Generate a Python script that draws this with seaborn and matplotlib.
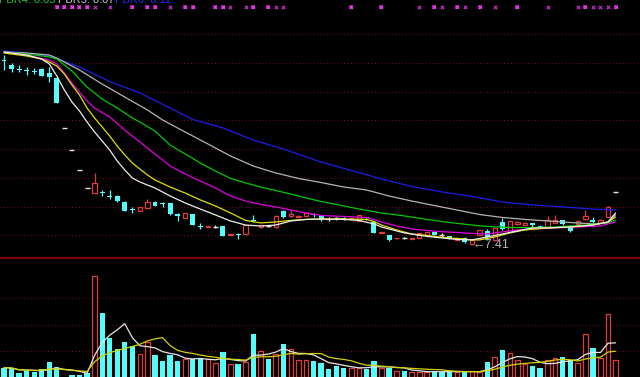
import numpy as np
import pandas as pd
import matplotlib
matplotlib.use("Agg")
import matplotlib.pyplot as plt
import seaborn as sns

# ------------------------------------------------------------------ data
opens = [20.59, 20.23, 19.91, 19.84, 19.81, 19.95, 19.69, 19.31, 15.78, 14.20,
         12.78, 11.50, 11.14, 11.19, 10.90, 10.90, 10.47, 9.94, 9.85, 10.03,
         10.47, 10.37, 10.38, 9.62, 9.33, 9.62, 8.76, 8.69, 8.71, 8.73,
         8.12, 8.19, 8.19, 9.14, 8.66, 8.76, 8.67, 9.85, 9.48, 9.40,
         9.48, 9.58, 9.48, 9.26, 9.31, 9.33, 9.23, 9.14, 9.33, 9.08,
         8.25, 8.12, 7.87, 7.91, 7.86, 7.89, 8.09, 8.30, 8.12, 8.05,
         7.77, 7.94, 7.48, 8.12, 8.37, 7.77, 9.07, 8.36, 8.91, 8.83,
         8.94, 8.76, 8.71, 8.98, 9.19, 8.76, 8.87, 9.24, 9.19, 9.00,
         9.42, 11.17]
highs = [20.95, 20.38, 20.23, 20.09, 20.02, 19.99, 20.09, 19.38, 15.78, 14.20,
         12.78, 11.50, 12.54, 11.33, 11.33, 10.97, 10.51, 10.12, 10.12, 10.67,
         10.51, 10.50, 10.42, 9.67, 9.71, 9.62, 9.00, 8.76, 8.83, 8.76,
         8.19, 8.24, 8.83, 9.55, 8.83, 8.83, 9.55, 9.90, 9.90, 9.51,
         9.76, 9.71, 9.48, 9.42, 9.42, 9.40, 9.30, 9.55, 9.42, 9.12,
         8.34, 8.14, 7.91, 8.00, 7.93, 8.24, 8.31, 8.31, 8.24, 8.05,
         8.00, 7.96, 7.82, 8.50, 8.55, 8.62, 9.30, 9.14, 9.12, 9.05,
         9.00, 8.83, 9.48, 9.55, 9.21, 8.83, 9.19, 9.90, 9.38, 9.24,
         10.19, 11.17]
lows = [19.88, 19.74, 19.74, 19.52, 19.59, 19.45, 19.02, 17.53, 15.78, 14.20,
        12.78, 11.50, 11.11, 10.90, 10.69, 10.47, 9.83, 9.69, 9.83, 9.95,
        10.19, 10.10, 9.55, 9.14, 9.31, 8.80, 8.53, 8.67, 8.62, 8.05,
        8.10, 7.82, 8.19, 9.05, 8.60, 8.69, 8.60, 9.31, 9.43, 9.37,
        9.44, 9.43, 9.12, 9.14, 9.19, 9.19, 9.19, 9.12, 9.19, 8.24,
        8.23, 7.69, 7.84, 7.82, 7.84, 7.87, 8.07, 8.10, 8.00, 7.82,
        7.77, 7.57, 7.41, 8.10, 7.77, 7.69, 8.51, 8.36, 8.83, 8.80,
        8.69, 8.62, 8.62, 8.94, 8.83, 8.34, 8.83, 9.19, 9.00, 8.98,
        9.40, 11.17]
closes = [20.52, 19.95, 19.88, 19.81, 19.77, 19.45, 19.36, 17.53, 15.78, 14.20,
          12.78, 11.50, 11.85, 11.11, 10.83, 10.51, 9.83, 9.90, 10.10, 10.50,
          10.22, 10.30, 9.62, 9.44, 9.69, 8.83, 8.69, 8.74, 8.71, 8.05,
          8.17, 8.14, 8.81, 9.10, 8.80, 8.76, 9.50, 9.38, 9.62, 9.48,
          9.71, 9.53, 9.16, 9.26, 9.31, 9.26, 9.26, 9.55, 9.30, 8.27,
          8.30, 7.77, 7.91, 7.91, 7.91, 8.23, 8.30, 8.12, 8.12, 7.84,
          7.94, 7.62, 7.77, 8.48, 7.98, 8.59, 8.55, 9.12, 9.07, 9.00,
          8.83, 8.69, 9.19, 9.19, 8.87, 8.37, 9.12, 9.48, 9.08, 9.21,
          10.15, 11.17]
volumes = [9.3, 8.7, 3.7, 6.0, 5.3, 7.7, 14.7, 10.3, 0.4, 1.7,
           1.7, 3.7, 101.0, 63.7, 39.0, 28.3, 34.7, 30.7, 23.3, 35.0,
           21.7, 16.3, 21.7, 16.3, 18.3, 17.7, 18.7, 17.7, 13.7, 25.0,
           12.7, 13.0, 15.3, 42.7, 26.0, 17.7, 23.0, 33.0, 27.7, 16.7,
           17.3, 15.7, 14.3, 8.0, 10.7, 9.3, 9.3, 8.7, 8.3, 15.7,
           8.7, 9.3, 6.0, 6.0, 4.7, 5.3, 4.7, 6.0, 5.3, 5.7,
           4.7, 5.3, 5.7, 5.3, 14.7, 19.7, 26.7, 24.3, 16.7, 12.7,
           11.3, 8.7, 17.0, 18.7, 20.0, 16.7, 14.3, 43.3, 28.7, 19.3,
           63.0, 16.7]
# volume colour per bar: u = up (red hollow), d = down (cyan)
vol_dir = ("dddddddddddd" "u" "ddddd" "uu" "dddd" "u" "dd" "uu" "d" "u" "d" "u" "d"
           "u" "d" "u" "d" "uuu" "ddddd" "uu" "dd" "u" "d" "u" "d" "uuu" "ddd" "u"
           "d" "uu" "d" "u" "d" "uuu" "dd" "uu" "dd" "uu" "d" "uuu")

# moving-average lines (bar index, price)
ma_white_idx = [0, 3, 5, 6, 7, 8, 9, 10, 11, 12, 13, 14, 15, 16, 17, 18, 19, 20, 22, 24, 26, 28,
                30, 32, 34, 36, 38, 40, 42, 45, 47, 49, 50, 53, 56, 58, 60, 62, 64, 66, 68, 70,
                72, 75, 78, 80, 81]
ma_white = [21.16, 20.95, 20.66, 20.31, 19.45, 18.45, 17.60, 16.96, 16.17, 15.46, 14.82, 14.18,
            13.39, 12.75, 12.18, 11.90, 11.68, 11.47, 10.90, 10.40, 9.97, 9.55, 9.12, 8.83, 8.76,
            8.83, 9.12, 9.23, 9.26, 9.23, 9.16, 8.91, 8.69, 8.27, 8.02, 7.91, 7.80, 7.77, 7.98,
            8.19, 8.41, 8.62, 8.62, 8.69, 8.83, 9.05, 9.69]
ma_yellow_idx = [0, 3, 5, 6, 7, 8, 9, 10, 11, 12, 13, 14, 15, 16, 17, 18, 19, 20, 22, 24, 26, 28,
                 30, 32, 34, 36, 38, 40, 42, 45, 48, 49, 50, 52, 54, 56, 58, 60, 62, 63, 65, 67,
                 69, 72, 75, 78, 80, 81]
ma_yellow = [21.09, 20.88, 20.66, 20.45, 20.16, 19.59, 18.81, 18.10, 17.17, 16.46, 15.82, 15.18,
             14.46, 13.82, 13.25, 12.82, 12.40, 12.04, 11.54, 11.11, 10.62, 10.19, 9.69, 9.16,
             8.98, 9.05, 9.16, 9.23, 9.26, 9.26, 9.23, 9.08, 8.83, 8.48, 8.19, 8.09, 7.96, 7.87,
             7.77, 7.77, 7.98, 8.27, 8.48, 8.62, 8.69, 8.83, 9.05, 9.40]
ma_magenta_idx = [0, 3, 6, 7, 8, 9, 10, 11, 12, 14, 16, 18, 20, 22, 24, 26, 28, 30, 32, 34, 36,
                  38, 40, 42, 45, 48, 50, 52, 54, 56, 58, 60, 62, 64, 66, 68, 72, 76, 79, 81]
ma_magenta = [21.16, 20.95, 20.59, 20.31, 19.66, 18.95, 18.31, 17.67, 17.17, 16.53, 15.60, 14.75,
              13.89, 13.04, 12.47, 11.97, 11.47, 10.90, 10.54, 10.30, 10.12, 9.90, 9.69, 9.51,
              9.44, 9.37, 9.05, 8.76, 8.55, 8.44, 8.36, 8.30, 8.23, 8.19, 8.34, 8.48, 8.62, 8.69,
              8.76, 9.05]
ma_green_idx = [0, 3, 6, 7, 9, 11, 13, 15, 17, 18, 20, 22, 24, 26, 28, 30, 32, 34, 36, 38, 40,
                42, 44, 47, 50, 53, 56, 59, 62, 64, 67, 70, 73, 77, 80, 81]
ma_green = [21.16, 21.02, 20.81, 20.66, 19.81, 18.67, 17.81, 17.17, 16.46, 16.17, 15.53, 14.53,
            13.89, 13.25, 12.68, 12.15, 11.83, 11.54, 11.29, 11.04, 10.76, 10.51, 10.30, 9.97,
            9.69, 9.48, 9.23, 9.01, 8.83, 8.73, 8.65, 8.65, 8.69, 8.83, 8.98, 9.19]
ma_gray_idx = [0, 3, 6, 7, 10, 13, 16, 19, 21, 24, 27, 30, 33, 36, 39, 42, 45, 48, 51, 54, 57,
               60, 63, 66, 69, 72, 75, 78, 80, 81]
ma_gray = [21.16, 21.09, 20.95, 20.73, 19.88, 18.88, 17.95, 17.03, 16.32, 15.46, 14.61, 13.75,
           13.04, 12.54, 12.15, 11.86, 11.54, 11.33, 10.90, 10.54, 10.22, 9.90, 9.58, 9.37,
           9.23, 9.12, 9.01, 8.91, 8.98, 9.55]
ma_blue_idx = [0, 3, 6, 10, 14, 18, 22, 25, 29, 33, 37, 42, 47, 50, 54, 58, 62, 66, 70, 74, 78, 81]
ma_blue = [21.23, 21.09, 20.88, 20.09, 19.06, 18.24, 17.17, 16.35, 15.75, 14.89, 14.25, 13.32,
           12.57, 12.11, 11.58, 11.19, 10.87, 10.47, 10.26, 10.12, 9.97, 9.90]

# signal markers along the top row (bar indices)
sig_big = [7, 8, 9, 10, 11, 17, 19, 20, 24, 25, 28, 29, 33, 35, 46, 50, 57, 60, 63, 68, 77, 81]
sig_small = [12, 14, 22, 30, 32, 36, 37, 55, 58, 61, 65, 72, 76, 78, 79, 80]

header_labels = ["PBR4: 0.05", "PBR5: 0.07", "PBR6: 0.11"]
low_label = "\u21907.41"
low_index = 62

price_grid = [8.09, 10.14, 12.19, 14.24, 16.29, 18.34, 20.39, 22.44]
vol_grid = [26.2, 52.5, 78.7]

# ------------------------------------------------------------------ style
sns.set_style("dark", rc={"axes.facecolor": "black", "figure.facecolor": "black"})
plt.rcParams["font.family"] = ["Liberation Sans", "DejaVu Sans"]

CYAN = "#54FCFC"
RED = "#E23B3B"
FLAT = "#E6E6E6"
GRID = "#6E1414"

fig = plt.figure(figsize=(6.4, 3.77), dpi=100, facecolor="black")
H = 377.0
ax = fig.add_axes([0, 119 / H, 1, 258 / H])
axv = fig.add_axes([0, 0, 1, 119 / H])

x = np.arange(len(closes))
o = np.array(opens); h = np.array(highs); l = np.array(lows); c = np.array(closes)
up = c > o
dn = c < o
fl = c == o
BW = 0.66
MINH = 0.07

# down candles (filled cyan)
ax.vlines(x[dn], l[dn], h[dn], color=CYAN, lw=0.9, zorder=2)
ax.bar(x[dn], np.maximum(o[dn] - c[dn], MINH), bottom=c[dn], width=BW,
       color=CYAN, linewidth=0, zorder=2.2)
# up candles (hollow red)
ax.vlines(x[up], l[up], h[up], color=RED, lw=0.9, zorder=2)
ax.bar(x[up], np.maximum(c[up] - o[up], MINH), bottom=o[up], width=BW - 0.08,
       facecolor="black", edgecolor=RED, linewidth=0.9, zorder=2.2)
# flat (one-price) bars
ax.vlines(x[fl], l[fl], h[fl], color=FLAT, lw=0.9, zorder=2)
ax.hlines(c[fl], x[fl] - 0.33, x[fl] + 0.33, color=FLAT, lw=1.0, zorder=2.2)

ma_lines = [
    (ma_blue_idx, ma_blue, "#1E1EE6"),
    (ma_gray_idx, ma_gray, "#B4B4B4"),
    (ma_green_idx, ma_green, "#00C800"),
    (ma_magenta_idx, ma_magenta, "#E000E0"),
    (ma_yellow_idx, ma_yellow, "#E0E000"),
    (ma_white_idx, ma_white, "#EDEDED"),
]
for idx, vals, col in ma_lines:
    sns.lineplot(x=idx, y=vals, ax=ax, color=col, linewidth=0.9,
                 estimator=None, sort=False, zorder=3)

# signal markers in the top row
tr = ax.get_xaxis_transform()
sig_row = 1 - 7 / 258
ax.scatter(sig_big, [sig_row] * len(sig_big), transform=tr, marker="s", s=11,
           color="#A810A8", linewidths=0, zorder=4)
ax.scatter(sig_big, [sig_row] * len(sig_big), transform=tr, marker="x", s=5,
           color="#FF55FF", linewidths=0.6, zorder=5)
ax.scatter(sig_small, [sig_row] * len(sig_small), transform=tr, marker="x", s=6,
           color="#D030D0", linewidths=0.8, zorder=4)

ax.text(low_index + 0.1, lows[low_index], low_label, color="#B8B8B8",
        fontsize=9, ha="left", va="center", zorder=5)

ax.set_xlim(-0.53, 84.24)
ax.set_ylim(6.48, 24.87)
ax.set_yticks(price_grid)
ax.set_xticks([])
ax.tick_params(length=0, labelleft=False, labelbottom=False)
ax.grid(axis="y", color=GRID, linestyle=(0, (1, 2.5)), linewidth=0.7)
ax.grid(axis="x", visible=False)
ax.set_xlabel("")
ax.set_ylabel("")
for s in ax.spines.values():
    s.set_visible(False)

# header texts (partly above the canvas, as in the reference)
header_colors = ["#22C822", "#C8C8C8", "#2828FF"]
header_x = [-1, 58, 115]
for txt, col, px in zip(header_labels, header_colors, header_x):
    fig.text(px / 640, 1 - 3 / H, txt, color=col, fontsize=8, va="baseline", ha="left")

# ------------------------------------------------------------------ volume
v = np.array(volumes)
vup = np.array([d == "u" for d in vol_dir])
axv.bar(x[~vup], v[~vup], width=0.7, color=CYAN, linewidth=0, zorder=2)
axv.bar(x[vup], v[vup], width=0.62, facecolor="black", edgecolor=RED,
        linewidth=0.9, zorder=2)
vs = pd.Series(volumes)
sns.lineplot(x=x, y=vs.rolling(5, min_periods=1).mean().values, ax=axv,
             color="#E6E6E6", linewidth=0.9, zorder=3)
sns.lineplot(x=x, y=vs.rolling(10, min_periods=1).mean().values, ax=axv,
             color="#D2D200", linewidth=0.9, zorder=3)
axv.set_xlim(-0.53, 84.24)
axv.set_ylim(0, 119)
axv.set_yticks(vol_grid)
axv.set_xticks([])
axv.tick_params(length=0, labelleft=False, labelbottom=False)
axv.grid(axis="y", color=GRID, linestyle=(0, (1, 2.5)), linewidth=0.7)
axv.grid(axis="x", visible=False)
axv.set_xlabel("")
axv.set_ylabel("")
for name, s in axv.spines.items():
    s.set_visible(name == "top")
axv.spines["top"].set_color("#800000")
axv.spines["top"].set_linewidth(1.6)

fig.savefig("out.png", dpi=100, facecolor="black")
